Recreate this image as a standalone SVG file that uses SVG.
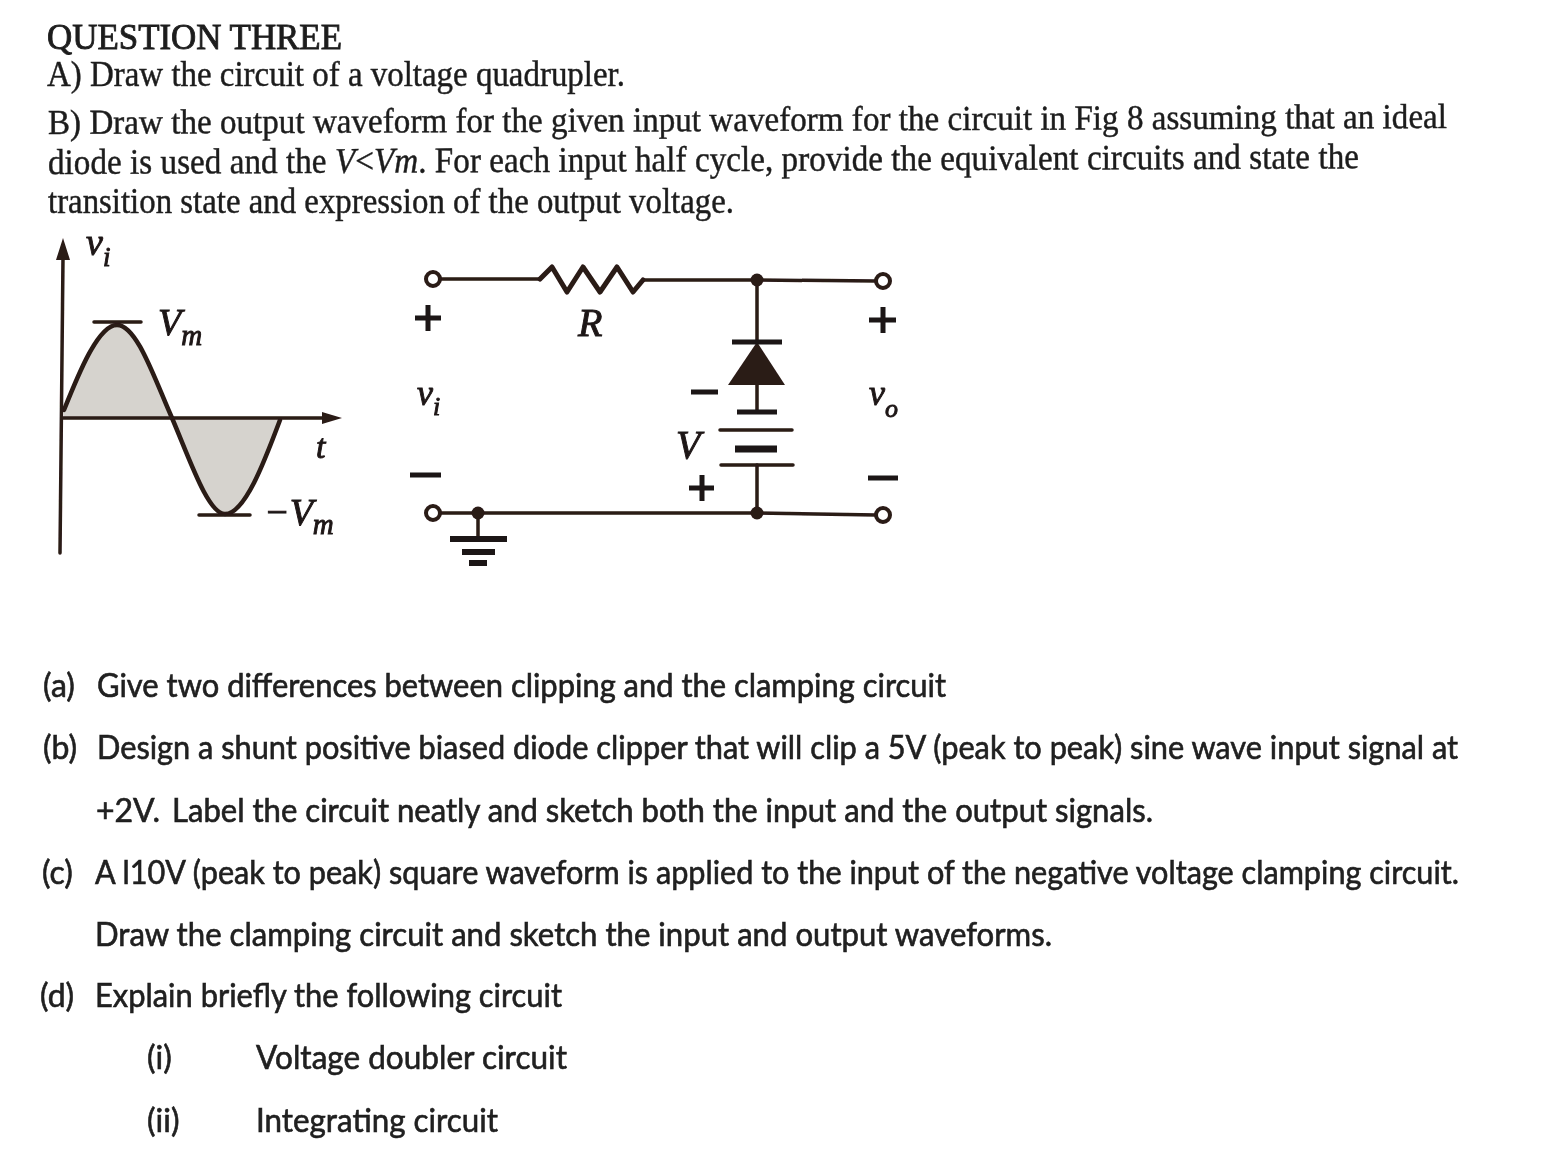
<svg xmlns="http://www.w3.org/2000/svg" width="1558" height="1149" viewBox="0 0 1558 1149">
<defs><filter id="soft" filterUnits="userSpaceOnUse" x="0" y="0" width="1558" height="1149"><feGaussianBlur stdDeviation="0.55"/></filter></defs>
<style>
.s{font-family:"Liberation Serif",serif;font-size:36px;fill:#1e1e1e;stroke:#1e1e1e;stroke-width:.45}
.h{stroke-width:.9}
.c{font-family:Lato,"Open Sans",sans-serif;font-size:32px;fill:#202020;stroke:#202020;stroke-width:.6}
.i{font-family:"Liberation Serif",serif;font-style:italic;fill:#1c1414;stroke:#1c1414;stroke-width:.9}
.w{fill:none;stroke:#2a1a16;stroke-width:3.5;stroke-linecap:round;stroke-linejoin:round}
.t{fill:#fff;stroke:#2a1a16;stroke-width:4}
.d{fill:#2a1a16}
.sign{fill:none;stroke:#1c1414;stroke-width:5}
</style>
<rect width="1558" height="1149" fill="#fff"/>
<g filter="url(#soft)">
<g id="text">
<text class="s h" x="47" y="49" textLength="295" lengthAdjust="spacingAndGlyphs">QUESTION THREE</text>
<text class="s" x="47" y="86" textLength="578" lengthAdjust="spacingAndGlyphs">A) Draw the circuit of a voltage quadrupler.</text>
<text class="s" style="font-size:35px" x="48" y="134" textLength="1399" lengthAdjust="spacingAndGlyphs" transform="rotate(-0.25 48 134)">B) Draw the output waveform for the given input waveform for the circuit in Fig 8 assuming that an ideal</text>
<text class="s" x="48" y="174" textLength="1311" lengthAdjust="spacingAndGlyphs" transform="rotate(-0.25 48 174)">diode is used and the <tspan font-style="italic">V</tspan>&lt;<tspan font-style="italic">Vm</tspan>. For each input half cycle, provide the equivalent circuits and state the</text>
<text class="s" x="48" y="213" textLength="686" lengthAdjust="spacingAndGlyphs">transition state and expression of the output voltage.</text>
<text class="c" x="43" y="697">(a)</text>
<text class="c" x="97" y="697" textLength="849" lengthAdjust="spacingAndGlyphs">Give two differences between clipping and the clamping circuit</text>
<text class="c" x="43" y="759">(b)</text>
<text class="c" x="97" y="759" textLength="1361" lengthAdjust="spacingAndGlyphs">Design a shunt positive biased diode clipper that will clip a 5V (peak to peak) sine wave input signal at</text>
<text class="c" x="96" y="822">+2V.</text>
<text class="c" x="172" y="822" textLength="981" lengthAdjust="spacingAndGlyphs">Label the circuit neatly and sketch both the input and the output signals.</text>
<text class="c" x="42" y="884">(c)</text>
<text class="c" x="95" y="884" textLength="1364" lengthAdjust="spacingAndGlyphs">A l10V (peak to peak) square waveform is applied to the input of the negative voltage clamping circuit.</text>
<text class="c" x="95" y="946" textLength="957" lengthAdjust="spacingAndGlyphs">Draw the clamping circuit and sketch the input and output waveforms.</text>
<text class="c" x="40" y="1007">(d)</text>
<text class="c" x="95" y="1007" textLength="467" lengthAdjust="spacingAndGlyphs">Explain briefly the following circuit</text>
<text class="c" x="147" y="1069">(i)</text>
<text class="c" x="256" y="1069" textLength="311" lengthAdjust="spacingAndGlyphs">Voltage doubler circuit</text>
<text class="c" x="147" y="1132">(ii)</text>
<text class="c" x="256" y="1132" textLength="242" lengthAdjust="spacingAndGlyphs">Integrating circuit</text>
</g>
<g id="waveform">
<path d="M64 418V410C78 375 98 325 117 325C137 325 155 380 172 418Z" fill="#d6d3ce"/>
<path d="M172 418C190 460 208 514 225 514C245 514 265 460 280 420V418Z" fill="#d6d3ce"/>
<path class="w" style="stroke-width:4.5" d="M64 410C78 375 98 325 117 325C137 325 155 380 172 418C190 460 208 514 225 514C245 514 265 460 280 420"/>
<path class="w" d="M63 258L60 553M63 418H325M94 322H141M199 515H250"/>
<path class="d" d="M63 238L70 260H56ZM342 418L322 412V424Z"/>
<text class="i" x="86" y="255" font-size="38">v<tspan dy="11" font-size="27">i</tspan></text>
<text class="i" x="158" y="335" font-size="38">V<tspan dy="10" font-size="29">m</tspan></text>
<text class="i" x="316" y="458" font-size="34">t</text>
<text class="i" x="264" y="525" font-size="38">−V<tspan dy="9" font-size="29">m</tspan></text>
</g>
<g id="connectors">
<path class="w" d="M440 279H540"/>
<path class="w" style="stroke-width:5" d="M540 279L552 267L567 292L583 267L600 292L617 267L633 292L643 280"/>
<path class="w" d="M643 280H757L876 281"/>
<path class="w" d="M757 280V343M757 385V412M757 465V513"/>
<path class="w" d="M440 513H757L876 515"/>
<path class="w" d="M478 513V539"/>
</g>
<g id="input-plus"><circle class="t" cx="433" cy="279" r="7"/><path class="sign" d="M415 318H441M428 305V331"/></g>
<g id="input-minus"><circle class="t" cx="433" cy="513" r="7"/><path class="sign" d="M410 475H441"/></g>
<g id="output-plus"><circle class="t" cx="883" cy="281" r="7"/><path class="sign" d="M869 320H896M883 307V333"/></g>
<g id="output-minus"><circle class="t" cx="883" cy="515" r="7"/><path class="sign" d="M868 478H898"/></g>
<g id="resistor-label"><text class="i" x="578" y="336" font-size="40">R</text></g>
<g id="vi-label"><text class="i" x="417" y="405" font-size="36">v<tspan dy="10" font-size="26">i</tspan></text></g>
<g id="vo-label"><text class="i" x="869" y="405" font-size="36">v<tspan dy="12" font-size="26">o</tspan></text></g>
<g id="diode"><path class="d" d="M757 342L785 385H728Z"/><path class="sign" d="M732 342H782M737 412H777"/></g>
<g id="battery">
<path class="w" d="M720 430H792M721 465H793"/>
<path class="sign" style="stroke-width:7" d="M735 449H777"/>
<text class="i" x="676" y="458" font-size="40">V</text>
<path class="sign" d="M691 392H718M689 488H714M702 475V501"/>
</g>
<g id="nodes"><circle class="d" cx="757" cy="280" r="6.5"/><circle class="d" cx="757" cy="513" r="6.5"/><circle class="d" cx="478" cy="513" r="6.5"/></g>
<g id="ground"><path class="sign" style="stroke-width:6" d="M450 539H507M462 552H495M469 563H487"/></g>
</g>
</svg>
